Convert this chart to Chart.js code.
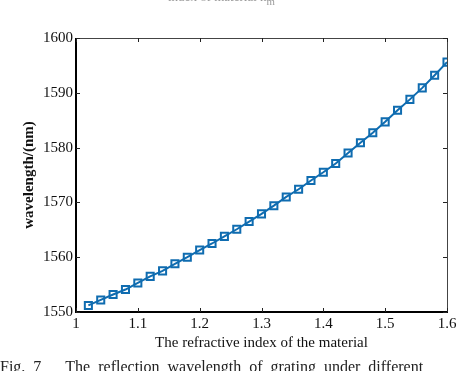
<!DOCTYPE html>
<html>
  <head>
    <title>Reflection wavelength</title>
    <style>
      body {
        margin: 0;
        background: #fff;
        width: 474px;
        height: 371px;
        overflow: hidden;
        position: relative;
        font-family: 'Liberation Serif', 'DejaVu Serif', serif;
      }
      .cap {
        position: absolute;
        white-space: nowrap;
        color: #222;
      }
      #top-cap {
        left: 168px;
        top: -11px;
        font-size: 13px;
        color: #999;
      }
      #bottom-cap {
        left: 0;
        top: 358px;
        font-size: 16px;
        word-spacing: 4px;
      }
    </style>
  </head>
  <body>
    <canvas id="chart" width="474" height="371"></canvas>
    <div class="cap" id="top-cap">index of material n<sub>m</sub></div>
    <div class="cap" id="bottom-cap">Fig. 7&nbsp;&nbsp;&nbsp;The reflection wavelength of grating under different</div>

    <script src="https://cdn.jsdelivr.net/npm/chart.js@4"></script>
    <script type="text/javascript">
      const refractiveIndex = [
        1.02, 1.04, 1.06, 1.08, 1.1, 1.12, 1.14, 1.16, 1.18, 1.2,
        1.22, 1.24, 1.26, 1.28, 1.3, 1.32, 1.34, 1.36, 1.38, 1.4,
        1.42, 1.44, 1.46, 1.48, 1.5, 1.52, 1.54, 1.56, 1.58, 1.6,
      ];
      const wavelength = [
        1551.2, 1552.2, 1553.2, 1554.1, 1555.3, 1556.5, 1557.5, 1558.8, 1560.0, 1561.3,
        1562.5, 1563.8, 1565.1, 1566.5, 1567.9, 1569.4, 1571.0, 1572.4, 1574.0, 1575.5,
        1577.1, 1579.0, 1580.9, 1582.7, 1584.7, 1586.8, 1588.8, 1590.9, 1593.2, 1595.6,
      ];
      const xTicks = [1, 1.1, 1.2, 1.3, 1.4, 1.5, 1.6];
      const yTicks = [1550, 1560, 1570, 1580, 1590, 1600];

      const lineColor = '#0f6cb0';
      const font = { family: "'Liberation Serif', 'DejaVu Serif', serif", size: 15 };

      // matlab style box with inward ticks
      const boxPlugin = {
        id: 'box',
        afterDraw(chart) {
          const { ctx, chartArea: a, scales } = chart;
          ctx.save();
          ctx.strokeStyle = '#444';
          ctx.lineWidth = 1;
          ctx.beginPath();
          ctx.moveTo(a.left, a.top + 0.5);
          ctx.lineTo(a.right + 0.5, a.top + 0.5);
          ctx.lineTo(a.right + 0.5, a.bottom);
          ctx.stroke();
          ctx.strokeStyle = '#000';
          ctx.lineWidth = 2;
          ctx.beginPath();
          ctx.moveTo(a.left, a.top);
          ctx.lineTo(a.left, a.bottom);
          ctx.lineTo(a.right + 1, a.bottom);
          ctx.stroke();
          ctx.lineWidth = 1;
          ctx.strokeStyle = '#222';
          ctx.beginPath();
          scales.x.ticks.forEach((t) => {
            const px = Math.round(scales.x.getPixelForValue(t.value)) + 0.5;
            ctx.moveTo(px, a.bottom);
            ctx.lineTo(px, a.bottom - 4);
            ctx.moveTo(px, a.top);
            ctx.lineTo(px, a.top + 4);
          });
          scales.y.ticks.forEach((t) => {
            const py = Math.round(scales.y.getPixelForValue(t.value)) + 0.5;
            ctx.moveTo(a.left, py);
            ctx.lineTo(a.left + 4, py);
            ctx.moveTo(a.right, py);
            ctx.lineTo(a.right - 4, py);
          });
          ctx.stroke();
          ctx.restore();
        },
      };

      new Chart(document.getElementById('chart'), {
        type: 'scatter',
        data: {
          datasets: [
            {
              label: 'wavelength',
              data: refractiveIndex.map((x, i) => ({ x, y: wavelength[i] })),
              showLine: true,
              borderColor: lineColor,
              borderWidth: 2,
              pointStyle: 'rect',
              pointRadius: 5,
              pointBorderWidth: 2,
              pointBorderColor: lineColor,
              pointBackgroundColor: 'rgba(255,255,255,0)',
            },
          ],
        },
        options: {
          responsive: false,
          animation: false,
          layout: { padding: { top: 38, right: 27, left: 20, bottom: 19 } },
          plugins: { legend: { display: false }, tooltip: { enabled: false } },
          scales: {
            x: {
              type: 'linear',
              min: 1,
              max: 1.6,
              afterBuildTicks: (s) => {
                s.ticks = xTicks.map((value) => ({ value }));
              },
              afterFit: (s) => {
                s.height = 40;
              },
              border: { display: false },
              grid: { display: false, drawTicks: false },
              ticks: {
                color: '#111',
                font,
                padding: 3,
                maxRotation: 0,
                callback: (v) => String(v),
              },
              title: {
                display: true,
                text: 'The refractive index of the material',
                color: '#111',
                font,
                padding: { top: 0, bottom: 0 },
              },
            },
            y: {
              type: 'linear',
              min: 1550,
              max: 1600,
              afterBuildTicks: (s) => {
                s.ticks = yTicks.map((value) => ({ value }));
              },
              afterFit: (s) => {
                s.width = 56;
              },
              border: { display: false },
              grid: { display: false, drawTicks: false },
              ticks: { color: '#111', font, padding: 3, callback: (v) => String(v) },
              title: {
                display: true,
                text: 'wavelength/(nm)',
                color: '#111',
                font: { ...font, weight: 'bold' },
                padding: { top: 0, bottom: 0 },
              },
            },
          },
        },
        plugins: [boxPlugin],
      });
    </script>
  </body>
</html>
